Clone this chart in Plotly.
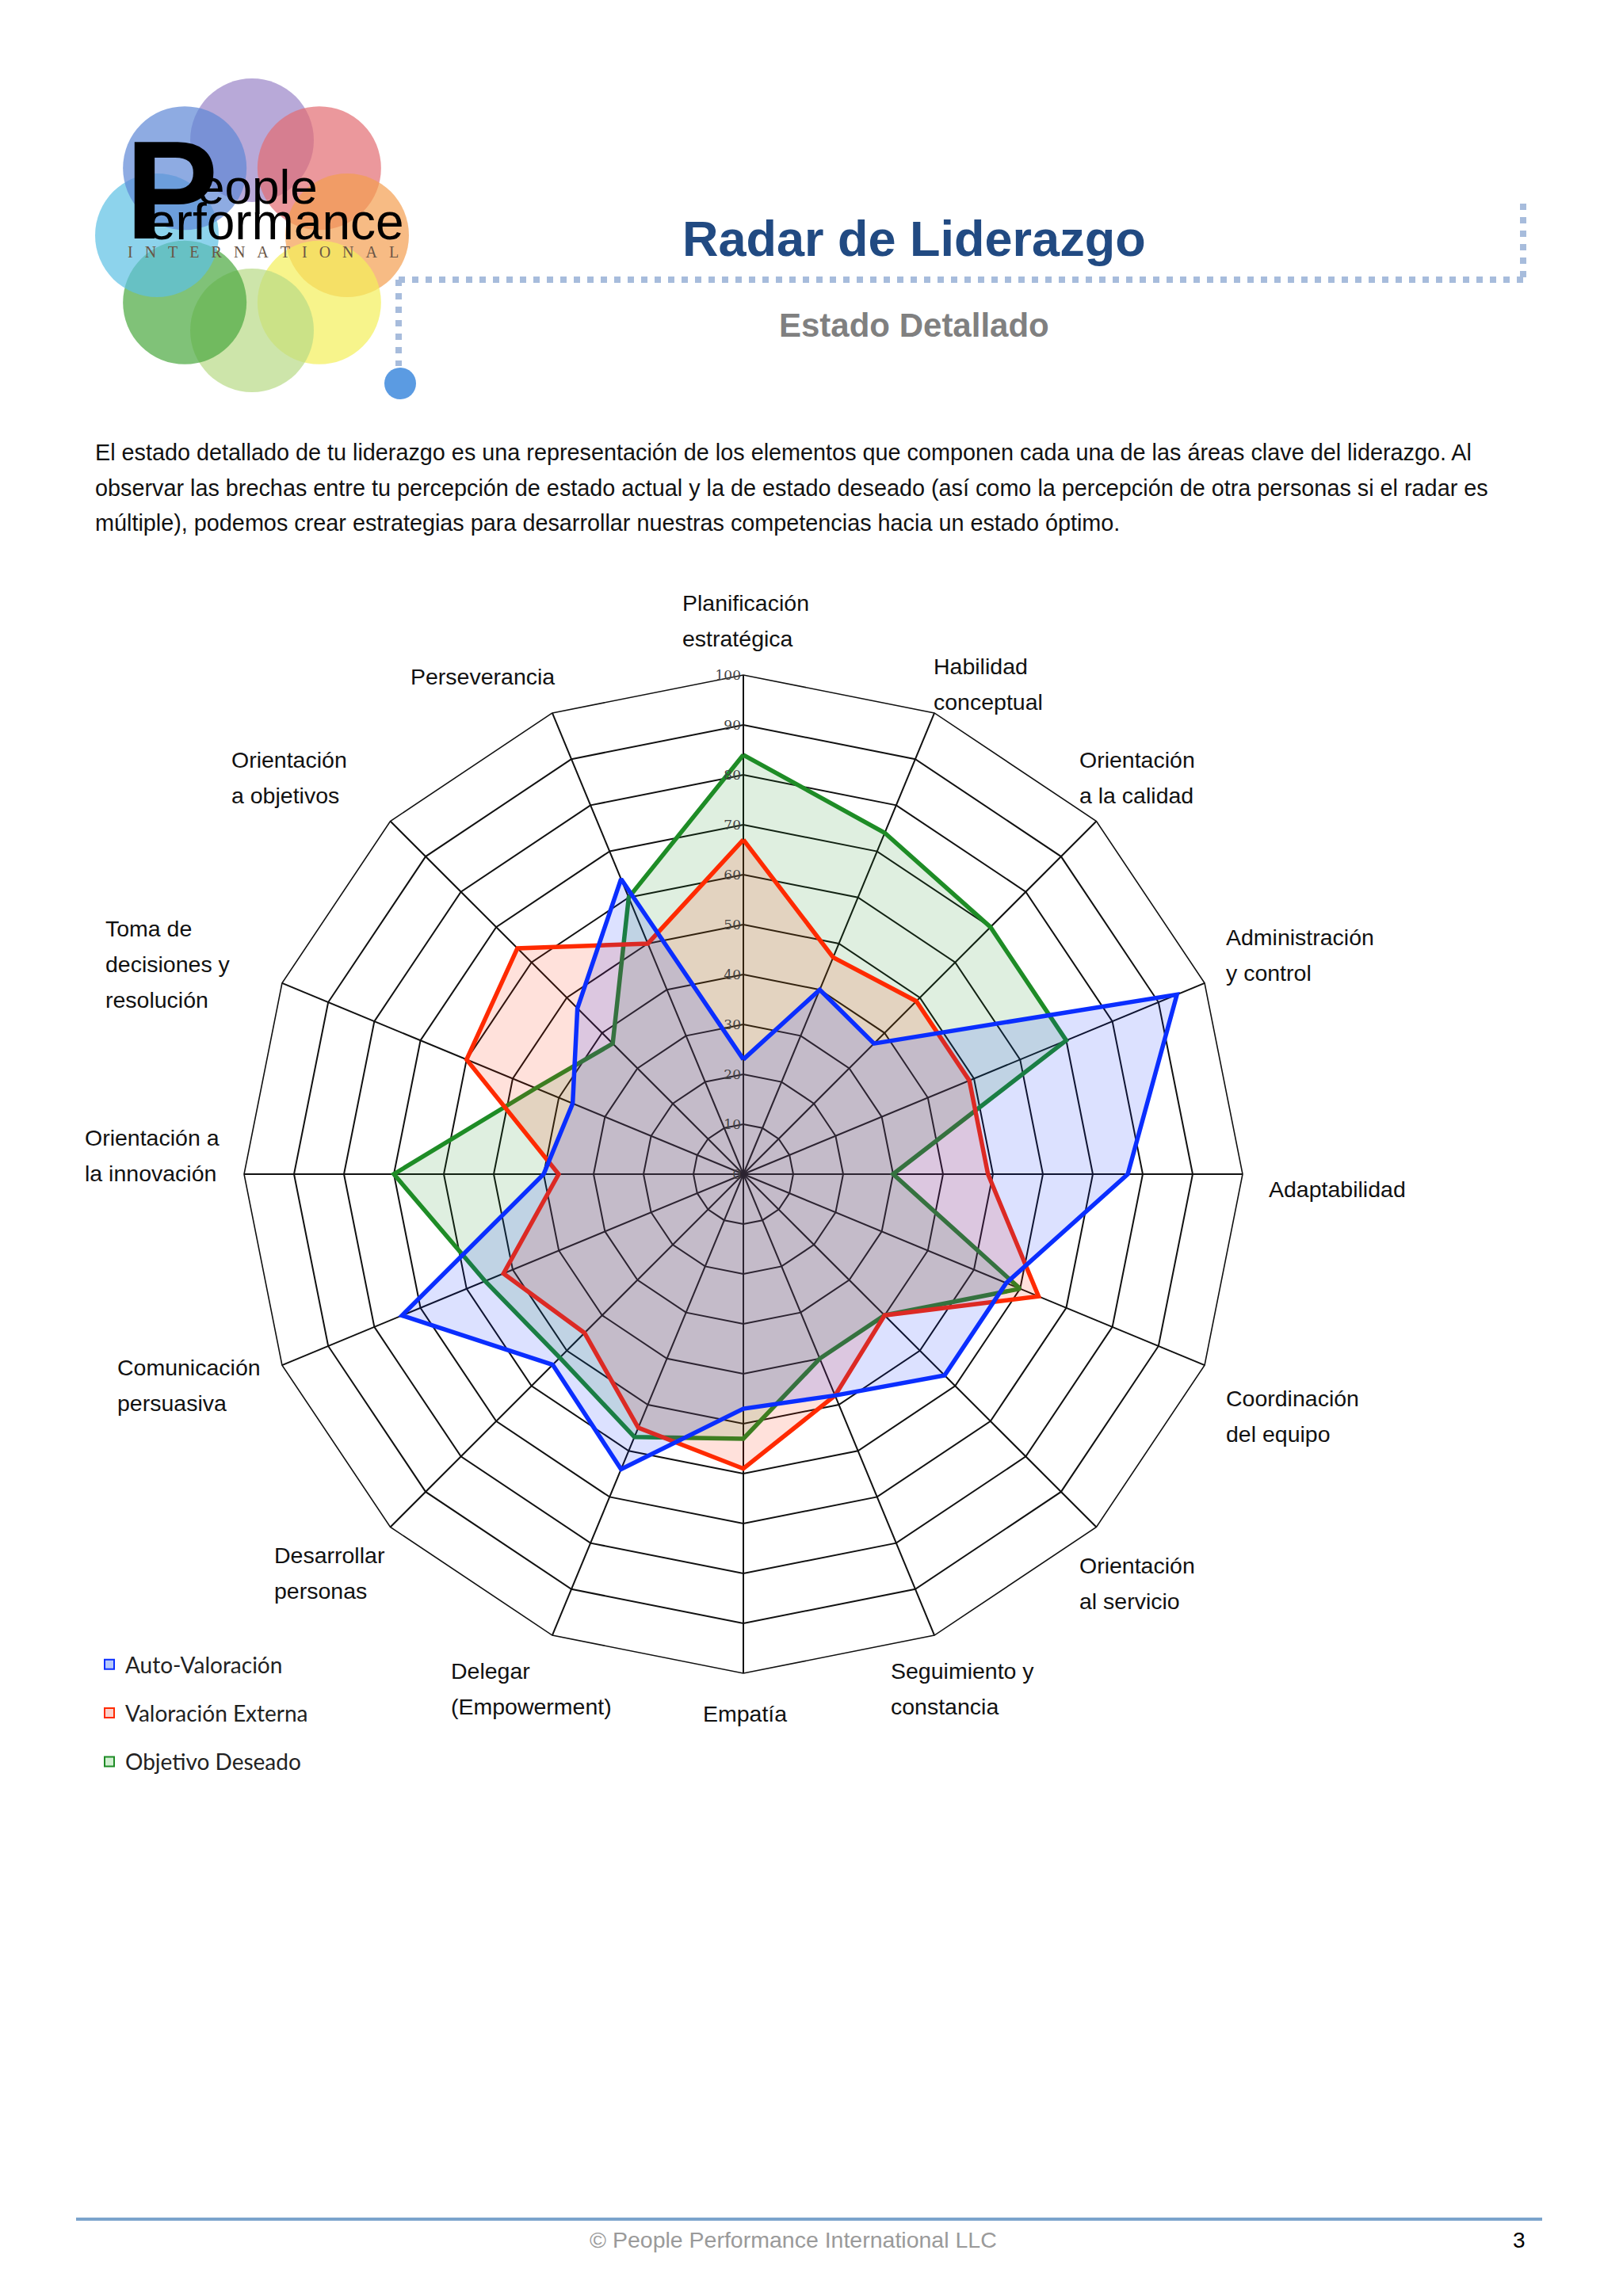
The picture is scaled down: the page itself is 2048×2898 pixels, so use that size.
import plotly.graph_objects as go
import math

# ---------------- data ----------------
categorias = [
    "Planificación estratégica", "Habilidad conceptual", "Orientación a la calidad",
    "Administración y control", "Adaptabilidad", "Coordinación del equipo",
    "Orientación al servicio", "Seguimiento y constancia", "Empatía",
    "Delegar (Empowerment)", "Desarrollar personas", "Comunicación persuasiva",
    "Orientación a la innovación", "Toma de decisiones y resolución",
    "Orientación a objetivos", "Perseverancia",
]
etiquetas = [
    ["Planificación", "estratégica"], ["Habilidad", "conceptual"], ["Orientación", "a la calidad"],
    ["Administración", "y control"], ["Adaptabilidad"], ["Coordinación", "del equipo"],
    ["Orientación", "al servicio"], ["Seguimiento y", "constancia"], ["Empatía"],
    ["Delegar", "(Empowerment)"], ["Desarrollar", "personas"], ["Comunicación", "persuasiva"],
    ["Orientación a", "la innovación"], ["Toma de", "decisiones y", "resolución"],
    ["Orientación", "a objetivos"], ["Perseverancia"],
]
auto_valoracion = [23, 40, 37, 94, 77, 57, 57, 48, 47, 64, 54, 74, 40, 37, 47, 64]
valoracion_externa = [67, 47, 49, 49, 49, 64, 40, 48, 59, 55, 45, 52, 37, 60, 64, 50]
objetivo_deseado = [84, 74, 70, 70, 30, 60, 40, 40, 53, 57, 52, 56, 70, 45, 37, 60]
radial_ticks = [0, 10, 20, 30, 40, 50, 60, 70, 80, 90, 100]
series_nombres = ["Auto-Valoración", "Valoración Externa", "Objetivo Deseado"]

# ---------------- layout helpers ----------------
W, H, OFF = 2032, 2882, 8
def px(x): return (x - OFF) / W
def py(y): return 1 - (y - OFF) / H

CX, CY, R = 938, 1482, 630
FONT = "Liberation Sans, Arial, sans-serif"

colores = {"Auto-Valoración": ("#0a2eff", "rgba(10,46,255,0.14)", "rgba(175,195,250,0.9)"),
           "Valoración Externa": ("#ff2a00", "rgba(255,42,0,0.14)", "rgba(250,205,200,0.9)"),
           "Objetivo Deseado": ("#1e8c26", "rgba(30,140,38,0.14)", "rgba(205,238,205,0.9)")}
valores = {"Auto-Valoración": auto_valoracion,
           "Valoración Externa": valoracion_externa,
           "Objetivo Deseado": objetivo_deseado}

fig = go.Figure()
for nombre in ["Objetivo Deseado", "Valoración Externa", "Auto-Valoración"]:
    v = valores[nombre]
    line_c, fill_c, _ = colores[nombre]
    fig.add_trace(go.Scatterpolar(
        r=v + [v[0]], theta=categorias + [categorias[0]],
        mode="lines", fill="toself", fillcolor=fill_c,
        line=dict(color=line_c, width=5.5), showlegend=False, name=nombre))

# legend entries
for i, nombre in enumerate(series_nombres):
    line_c, _, leg_fill = colores[nombre]
    fig.add_trace(go.Scatterpolar(
        r=[None], theta=[categorias[0]], mode="markers", name=nombre,
        legendgroup=f"g{i}",
        marker=dict(symbol="square", size=17, color=leg_fill, line=dict(color=line_c, width=2.5))))

annotations = []
shapes = []

# category labels
label_pos = [(859, 761), (1176, 841), (1360, 959), (1545, 1183), (1599, 1501),
             (1545, 1765), (1360, 1976), (1122, 2109), (885, 2163), (567, 2109),
             (344, 1963), (146, 1726), (105, 1436), (131, 1172), (290, 959), (516, 854)]
for lines, (lx, ly) in zip(etiquetas, label_pos):
    for j, t in enumerate(lines):
        annotations.append(dict(text=t, x=px(lx), y=py(ly + 45 * j), xref="paper", yref="paper",
                                xanchor="left", yanchor="middle", showarrow=False,
                                font=dict(family=FONT, size=28.5, color="#111")))

# ---------- header: logo ----------
logo_cx, logo_cy, ring, cr = 318, 297, 120, 78
logo_cols = ["#9a84c8", "#e26c72", "#f49e50", "#f4f05a", "#b8da86", "#4aa83e", "#5cc0e4", "#5e88d6"]
for k, c in enumerate(logo_cols):
    ang = math.radians(90 - 45 * k)
    ccx = logo_cx + ring * math.cos(ang)
    ccy = logo_cy - ring * math.sin(ang)
    shapes.append(dict(type="circle", xref="paper", yref="paper",
                       x0=px(ccx - cr), x1=px(ccx + cr), y0=py(ccy + cr), y1=py(ccy - cr),
                       fillcolor=c, opacity=0.7, line=dict(width=0), layer="below"))

annotations.append(dict(text="<b>P</b>", x=px(156), y=py(240), xref="paper", yref="paper",
                        xanchor="left", yanchor="middle", showarrow=False,
                        font=dict(family=FONT, size=176, color="#000")))
annotations.append(dict(text="eople", x=px(247), y=py(235), xref="paper", yref="paper",
                        xanchor="left", yanchor="middle", showarrow=False,
                        font=dict(family=FONT, size=62, color="#000")))
annotations.append(dict(text="erformance", x=px(184), y=py(280), xref="paper", yref="paper",
                        xanchor="left", yanchor="middle", showarrow=False,
                        font=dict(family=FONT, size=64, color="#000")))
nb = "\u00a0\u00a0\u00a0"
annotations.append(dict(text=nb.join("INTERNATIONAL"), x=px(332), y=py(318), xref="paper", yref="paper",
                        xanchor="center", yanchor="middle", showarrow=False,
                        font=dict(family="Liberation Serif, serif", size=20, color="#6a5646")))

# dotted decoration
dot_col = "#a7bcdc"
for (x0, y0, x1, y1) in [(503, 353, 1922, 353), (1922, 257, 1922, 353), (503, 353, 503, 462)]:
    shapes.append(dict(type="line", xref="paper", yref="paper", x0=px(x0), y0=py(y0), x1=px(x1), y1=py(y1),
                       line=dict(color=dot_col, width=8, dash="8px,9px")))
shapes.append(dict(type="circle", xref="paper", yref="paper", x0=px(485), x1=px(525), y0=py(504), y1=py(464),
                   fillcolor="#5b9be2", line=dict(width=0)))

# titles
annotations.append(dict(text="<b>Radar de Liderazgo</b>", x=px(1153), y=py(301), xref="paper", yref="paper",
                        xanchor="center", yanchor="middle", showarrow=False,
                        font=dict(family=FONT, size=63, color="#214a82")))
annotations.append(dict(text="<b>Estado Detallado</b>", x=px(1153), y=py(410), xref="paper", yref="paper",
                        xanchor="center", yanchor="middle", showarrow=False,
                        font=dict(family=FONT, size=42, color="#808080")))

parrafo = [
    "El estado detallado de tu liderazgo es una representación de los elementos que componen cada una de las áreas clave del liderazgo. Al",
    "observar las brechas entre tu percepción de estado actual y la de estado deseado (así como la percepción de otra personas si el radar es",
    "múltiple), podemos crear estrategias para desarrollar nuestras competencias hacia un estado óptimo.",
]
for j, t in enumerate(parrafo):
    annotations.append(dict(text=t, x=px(118), y=py(571 + 44.5 * j), xref="paper", yref="paper",
                            xanchor="left", yanchor="middle", showarrow=False,
                            font=dict(family=FONT, size=28.8, color="#111")))

# footer
shapes.append(dict(type="line", xref="paper", yref="paper", x0=px(96), x1=px(1946), y0=py(2801), y1=py(2801),
                   line=dict(color="#7ba3cc", width=4)))
annotations.append(dict(text="© People Performance International LLC", x=px(1001), y=py(2827),
                        xref="paper", yref="paper", xanchor="center", yanchor="middle", showarrow=False,
                        font=dict(family=FONT, size=28.5, color="#9a9a9a")))
annotations.append(dict(text="3", x=px(1917), y=py(2827), xref="paper", yref="paper",
                        xanchor="center", yanchor="middle", showarrow=False,
                        font=dict(family=FONT, size=28, color="#000")))

fig.update_layout(
    width=W, height=H, margin=dict(l=0, r=0, t=0, b=0),
    paper_bgcolor="white", plot_bgcolor="white",
    polar=dict(
        domain=dict(x=[px(CX - R), px(CX + R)], y=[py(CY + R), py(CY - R)]),
        gridshape="linear", bgcolor="rgba(0,0,0,0)",
        angularaxis=dict(type="category", categoryarray=categorias, rotation=90, direction="clockwise",
                         showticklabels=False, ticks="", gridcolor="#111", gridwidth=1.6,
                         showline=True, linecolor="#111", linewidth=1.6),
        radialaxis=dict(range=[0, 100], tickvals=radial_ticks, angle=90, side="counterclockwise",
                        showline=False, ticks="", gridcolor="#111", gridwidth=1.6, tickangle=90,
                        tickfont=dict(family="DejaVu Serif, serif", size=17, color="#444")),
    ),
    showlegend=True,
    legend=dict(x=px(118), y=py(2076), xanchor="left", yanchor="top", tracegroupgap=22,
                bgcolor="rgba(0,0,0,0)", font=dict(family="Lato, Open Sans, sans-serif", size=28, color="#222"),
                itemsizing="constant"),
    annotations=annotations, shapes=shapes,
)

fig.write_html("out.html")
